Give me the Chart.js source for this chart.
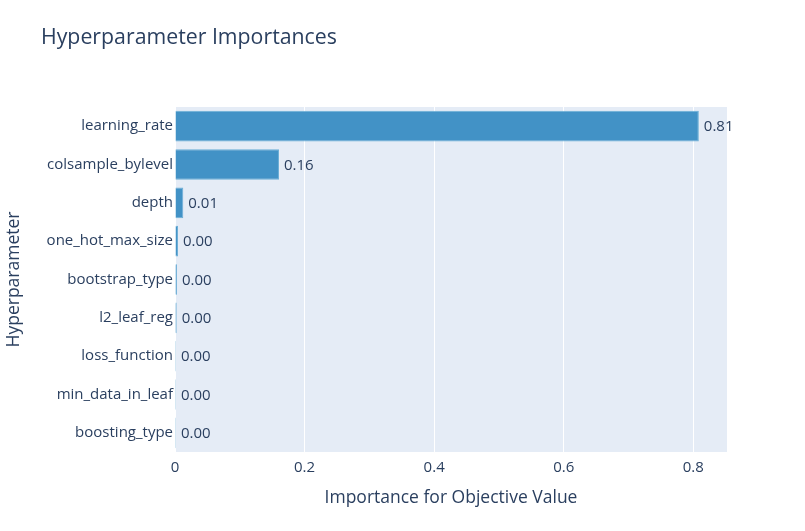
<!DOCTYPE html>
<html>
<head>
<meta charset="utf-8">
<script src="https://cdn.jsdelivr.net/npm/chart.js@4.4.1/dist/chart.umd.min.js"></script>
<style>
  html, body { margin: 0; padding: 0; background: #fff; }
  #wrap { width: 805px; height: 531px; }
</style>
</head>
<body>
<div id="wrap"><canvas id="chart-importances" width="805" height="531"></canvas></div>
<script>
// Datos
const hyperparams = ['learning_rate', 'colsample_bylevel', 'depth', 'one_hot_max_size', 'bootstrap_type',
    'l2_leaf_reg', 'loss_function', 'min_data_in_leaf', 'boosting_type'];
const importances = [0.8085, 0.1605, 0.0128, 0.0046, 0.0031, 0.0026, 0.0014, 0.0010, 0.0003];
const xTicks = [0, 0.2, 0.4, 0.6, 0.8];
const xMax = 0.852;

const textColor = '#2a3f5f';
const fontFamily = '"Open Sans", sans-serif';

// Fondo del área del gráfico, título y etiquetas de valor
const plotDecor = {
    id: 'plotDecor',
    beforeDraw(chart) {
        const { ctx, chartArea: a } = chart;
        ctx.save();
        ctx.fillStyle = '#E5ECF6';
        ctx.fillRect(a.left, a.top, a.right - a.left, a.bottom - a.top);
        ctx.restore();
    },
    afterDraw(chart) {
        const ctx = chart.ctx;
        ctx.save();
        ctx.fillStyle = textColor;
        ctx.font = '21.3px ' + fontFamily;
        ctx.textBaseline = 'middle';
        ctx.textAlign = 'left';
        ctx.fillText('Hyperparameter Importances', 41, 38);

        ctx.font = '15px ' + fontFamily;
        const meta = chart.getDatasetMeta(0);
        meta.data.forEach((bar, i) => {
            ctx.fillText(importances[i].toFixed(2), bar.x + 5, bar.y + 1);
        });
        ctx.restore();
    }
};

new Chart(document.getElementById('chart-importances'), {
    type: 'bar',
    data: {
        labels: hyperparams,
        datasets: [{
            data: importances,
            backgroundColor: '#4292c6',
            borderColor: '#6baed6',
            borderWidth: 1,
            minBarLength: 1,
            barPercentage: 0.8,
            categoryPercentage: 1,
        }],
    },
    options: {
        indexAxis: 'y',
        responsive: false,
        animation: false,
        layout: { padding: { left: 0, right: 78, top: 107, bottom: 0 } },
        plugins: {
            legend: { display: false },
            tooltip: { enabled: false },
        },
        scales: {
            x: {
                min: 0,
                max: xMax,
                afterFit(scale) { scale.height = 79; },
                afterBuildTicks(scale) {
                    scale.ticks = xTicks.map(v => ({ value: v }));
                },
                border: { display: false },
                grid: { color: '#ffffff', lineWidth: 1, drawTicks: false },
                ticks: {
                    padding: 7,
                    color: textColor,
                    font: { family: fontFamily, size: 15 },
                    callback: v => String(v),
                },
                title: {
                    display: true,
                    text: 'Importance for Objective Value',
                    color: textColor,
                    font: { family: fontFamily, size: 17.5 },
                    padding: { top: 22, bottom: 22 },
                },
            },
            y: {
                afterFit(scale) { scale.width = 175; },
                border: { display: false },
                grid: { display: false, drawTicks: false },
                ticks: {
                    padding: 2,
                    color: textColor,
                    font: { family: fontFamily, size: 15 },
                },
                title: {
                    display: true,
                    text: 'Hyperparameter',
                    color: textColor,
                    font: { family: fontFamily, size: 17.5 },
                    padding: { top: 4, bottom: 4 },
                },
            },
        },
    },
    plugins: [plotDecor],
});
</script>
</body>
</html>
